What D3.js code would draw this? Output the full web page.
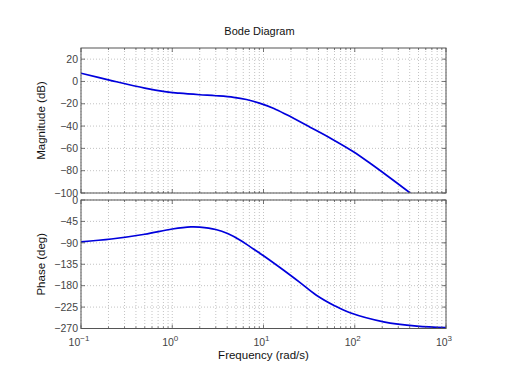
<!DOCTYPE html>
<html>
<head>
<meta charset="utf-8">
<script src="https://cdn.jsdelivr.net/npm/d3@7"></script>
<style>
  html, body { margin: 0; padding: 0; background: #fff; }
  svg { display: block; font-family: "Liberation Sans", Arial, sans-serif; }
</style>
</head>
<body>
<div id="bode"></div>
<script>
// values
var magFreq = [0.1, 0.215, 0.5, 0.83, 1.2, 2.0, 3.0, 4.7, 6.5, 9.2, 13, 18, 32.4, 56, 96.8, 150, 225, 405];
var magDb   = [7.4, 0.8, -6.0, -9.1, -10.5, -11.9, -12.8, -14.2, -16.2, -19.6, -24.2, -29.9, -41, -51.5, -63, -73.8, -84.3, -100];

var phaseFreq = [0.1, 0.215, 0.5, 1.0, 1.6, 2.0, 3.0, 4.1, 5.5, 7.1, 10, 16.5, 25, 38, 60, 89, 207, 480, 1000];
var phaseDeg  = [-87.8, -82, -72, -61, -56.5, -57, -62, -71, -84, -98, -117, -147, -173, -200, -222, -237, -256, -265, -268];

var xTicks = [0.1, 1, 10, 100, 1000];
var xExp = ["\u22121", "0", "1", "2", "3"];
var magTicks = [20, 0, -20, -40, -60, -80, -100];
var phaseTicks = [0, -45, -90, -135, -180, -225, -270];

var W = 511, H = 372;
var left = 81, right = 446;

var svg = d3.select("#bode").append("svg")
  .attr("width", W).attr("height", H);

var x = d3.scaleLog().domain([0.1, 1000]).range([left, right]);

// minor x positions (2..9 in each decade)
var minorX = [];
for (var d = 0.1; d < 1000; d *= 10) {
  for (var k = 2; k <= 9; k++) minorX.push(d * k);
}

function fmt(v) { return v < 0 ? "\u2212" + Math.abs(v) : String(v); }

function panel(top, bottom, domain, ticks, xs, ys, label, id) {
  var y = d3.scaleLinear().domain(domain).range([bottom, top]);
  var g = svg.append("g");

  // grid
  var grid = g.append("g").attr("stroke", "#b4b4b4").attr("stroke-width", 0.8)
    .attr("stroke-dasharray", "1,2");
  grid.selectAll(".gx").data(xTicks.concat(minorX)).enter().append("line")
    .attr("x1", d => x(d)).attr("x2", d => x(d))
    .attr("y1", top).attr("y2", bottom);
  grid.selectAll(".gy").data(ticks).enter().append("line")
    .attr("x1", left).attr("x2", right)
    .attr("y1", d => y(d)).attr("y2", d => y(d));

  // clip + curve
  svg.append("clipPath").attr("id", id)
    .append("rect").attr("x", left).attr("y", top)
    .attr("width", right - left).attr("height", bottom - top);

  var line = d3.line()
    .x(d => x(d[0])).y(d => y(d[1]))
    .curve(d3.curveCatmullRom.alpha(0.5));

  g.append("path")
    .datum(xs.map((f, i) => [f, ys[i]]))
    .attr("clip-path", "url(#" + id + ")")
    .attr("fill", "none").attr("stroke", "#0000dd").attr("stroke-width", 1.7)
    .attr("d", line);

  // ticks (inside, mirrored)
  var tk = g.append("g").attr("stroke", "#555").attr("stroke-width", 0.8);
  tk.selectAll(".ty").data(ticks).enter().append("g").each(function(d) {
    var s = d3.select(this);
    s.append("line").attr("x1", left).attr("x2", left + 4).attr("y1", y(d)).attr("y2", y(d));
    s.append("line").attr("x1", right - 4).attr("x2", right).attr("y1", y(d)).attr("y2", y(d));
  });
  tk.selectAll(".tx").data(xTicks).enter().append("g").each(function(d) {
    var s = d3.select(this);
    s.append("line").attr("x1", x(d)).attr("x2", x(d)).attr("y1", bottom).attr("y2", bottom - 4);
    s.append("line").attr("x1", x(d)).attr("x2", x(d)).attr("y1", top).attr("y2", top + 4);
  });
  tk.selectAll(".tm").data(minorX).enter().append("g").each(function(d) {
    var s = d3.select(this);
    s.append("line").attr("x1", x(d)).attr("x2", x(d)).attr("y1", bottom).attr("y2", bottom - 2);
    s.append("line").attr("x1", x(d)).attr("x2", x(d)).attr("y1", top).attr("y2", top + 2);
  });

  // box
  g.append("rect").attr("x", left).attr("y", top)
    .attr("width", right - left).attr("height", bottom - top)
    .attr("fill", "none").attr("stroke", "#555").attr("stroke-width", 1);

  // y tick labels
  g.selectAll(".yl").data(ticks).enter().append("text")
    .attr("x", left - 3).attr("y", d => y(d)).attr("dy", "0.35em")
    .attr("text-anchor", "end").attr("font-size", 10.5).attr("fill", "#444")
    .text(fmt);

  // y label
  g.append("text")
    .attr("transform", "translate(45," + ((top + bottom) / 2) + ") rotate(-90)")
    .attr("text-anchor", "middle").attr("font-size", 11.5).attr("fill", "#111")
    .text(label);

  return y;
}

panel(48, 193, [-100, 30], magTicks, magFreq, magDb, "Magnitude (dB)", "clipMag");
panel(200, 328.5, [-270, 0], phaseTicks, phaseFreq, phaseDeg, "Phase (deg)", "clipPh");

// x tick labels 10^n
var xl = svg.append("g").attr("fill", "#444").attr("font-size", 10.5);
xTicks.forEach(function(t, i) {
  var tx = xl.append("text").attr("x", x(t) - 2).attr("y", 346).attr("text-anchor", "middle");
  tx.append("tspan").text("10");
  tx.append("tspan").attr("dy", -5).attr("font-size", 8).text(xExp[i]);
});

svg.append("text")
  .attr("x", (left + right) / 2).attr("y", 359)
  .attr("text-anchor", "middle").attr("font-size", 11.5).attr("fill", "#111")
  .text("Frequency  (rad/s)");

svg.append("text")
  .attr("x", (left + right) / 2 - 4).attr("y", 35)
  .attr("text-anchor", "middle").attr("font-size", 11).attr("fill", "#111")
  .text("Bode Diagram");
</script>
</body>
</html>
